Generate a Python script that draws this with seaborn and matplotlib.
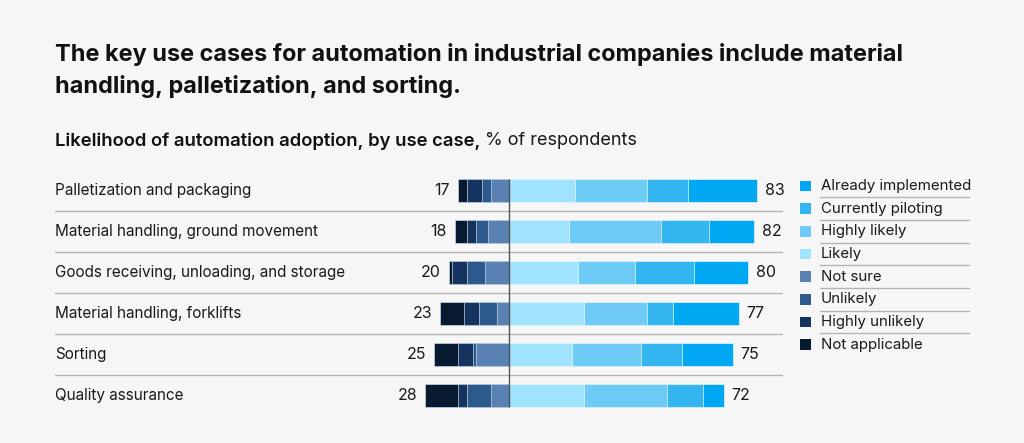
import matplotlib
matplotlib.use("Agg")
import matplotlib.pyplot as plt
import seaborn as sns

# Data
categories = [
    "Palletization and packaging",
    "Material handling, ground movement",
    "Goods receiving, unloading, and storage",
    "Material handling, forklifts",
    "Sorting",
    "Quality assurance",
]
likely = [22, 20, 23, 25, 21, 25]
highly_likely = [24, 31, 19, 21, 23, 28]
piloting = [14, 16, 20, 9, 14, 12]
already = [23, 15, 18, 22, 17, 7]
not_sure = [6, 7, 8, 4, 11, 6]
unlikely = [3, 4, 6, 6, 1, 8]
highly_unlikely = [5, 3, 5, 5, 5, 3]
not_applicable = [3, 4, 1, 8, 8, 11]

legend_labels = ["Already implemented", "Currently piloting", "Highly likely", "Likely",
                 "Not sure", "Unlikely", "Highly unlikely", "Not applicable"]
colors = ["#00a8f3", "#33b5f0", "#6ecbf6", "#9fe3fd",
          "#5981b2", "#2d5a8c", "#14345f", "#071a30"]

bg = "#f6f6f6"
sns.set_theme(style="white")
plt.rcParams["font.family"] = ["Inter", "DejaVu Sans"]

W, H = 1024, 443
fig = plt.figure(figsize=(W / 100, H / 100), dpi=100, facecolor=bg)

# main axes: x from 55px to 783px, zero at 508.7px, 2.996 px per %
px_per = 2.996
x0, x1, zero = 55, 783, 508.7
xmin = -(zero - x0) / px_per
xmax = (x1 - zero) / px_per
top, bottom = 170, 416
ax = fig.add_axes([x0 / W, 1 - bottom / H, (x1 - x0) / W, (bottom - top) / H])
ax.set_facecolor(bg)

# right side stacked, drawn as layered cumulative sums
right_series = [likely, highly_likely, piloting, already]
right_colors = [colors[3], colors[2], colors[1], colors[0]]
left_series = [not_sure, unlikely, highly_unlikely, not_applicable]
left_colors = [colors[4], colors[5], colors[6], colors[7]]

def cumulate(series):
    out = []
    run = [0] * len(categories)
    for s in series:
        run = [a + b for a, b in zip(run, s)]
        out.append(run)
    return out

right_cum = cumulate(right_series)
left_cum = cumulate(left_series)

for vals, c in zip(reversed(right_cum), reversed(right_colors)):
    sns.barplot(x=vals, y=categories, orient="h", color=c, saturation=1, width=0.57,
                edgecolor="#e8f6fd", linewidth=0.5, ax=ax, zorder=2)
for vals, c in zip(reversed(left_cum), reversed(left_colors)):
    sns.barplot(x=[-v for v in vals], y=categories, orient="h", color=c, saturation=1,
                width=0.57, edgecolor="#c9d6e6", linewidth=0.5, ax=ax, zorder=2)

ax.set_xlim(xmin, xmax)
ax.set_ylim(len(categories) - 0.5, -0.5)
ax.set_axis_off()

# separators and zero line
for i in range(len(categories) - 1):
    ax.axhline(i + 0.5, color="#b4b4b4", lw=1, zorder=1)
ax.vlines(0, -0.285, len(categories) - 1 + 0.285, color="#555555", lw=1, zorder=3)

for i, cat in enumerate(categories):
    ax.text(xmin, i, cat, ha="left", va="center", fontsize=11, color="#1a1a1a")
    ax.text(-left_cum[-1][i] - 2.6, i, str(left_cum[-1][i]), ha="right", va="center",
            fontsize=11.5, color="#1a1a1a")
    ax.text(right_cum[-1][i] + 2.4, i, str(right_cum[-1][i]), ha="left", va="center",
            fontsize=11.5, color="#1a1a1a")

# legend
lx0, lx1 = 799, 970
ltop, lbot = 174.7, 356
lax = fig.add_axes([lx0 / W, 1 - lbot / H, (lx1 - lx0) / W, (lbot - ltop) / H])
lax.set_facecolor(bg)
lax.set_xlim(lx0, lx1)
lax.set_ylim(len(legend_labels) - 0.5, -0.5)
lax.set_axis_off()
lax.scatter([805.5] * len(legend_labels), range(len(legend_labels)), marker="s",
            s=62, c=colors, linewidths=0)
for i, lab in enumerate(legend_labels):
    lax.text(820.5, i, lab, ha="left", va="center", fontsize=10.8, color="#1a1a1a")
    if i < len(legend_labels) - 1:
        lax.plot([820, 969], [i + 0.5, i + 0.5], color="#b4b4b4", lw=1)

# titles
fig.text(55 / W, 1 - 55 / H, "The key use cases for automation in industrial companies include material",
         fontsize=16.9, fontweight="bold", va="center", color="#111111")
fig.text(55 / W, 1 - 86 / H, "handling, palletization, and sorting.",
         fontsize=16.9, fontweight="bold", va="center", color="#111111")
t1 = fig.text(55 / W, 1 - 141 / H, "Likelihood of automation adoption, by use case,",
              fontsize=13.3, fontweight="semibold", va="center", color="#111111")
fig.canvas.draw()
bb = t1.get_window_extent()
fig.text((bb.x1 + 5) / W, 1 - 141 / H, "% of respondents",
         fontsize=13, va="center", color="#1a1a1a")

fig.savefig("out.png", dpi=100, facecolor=bg)
